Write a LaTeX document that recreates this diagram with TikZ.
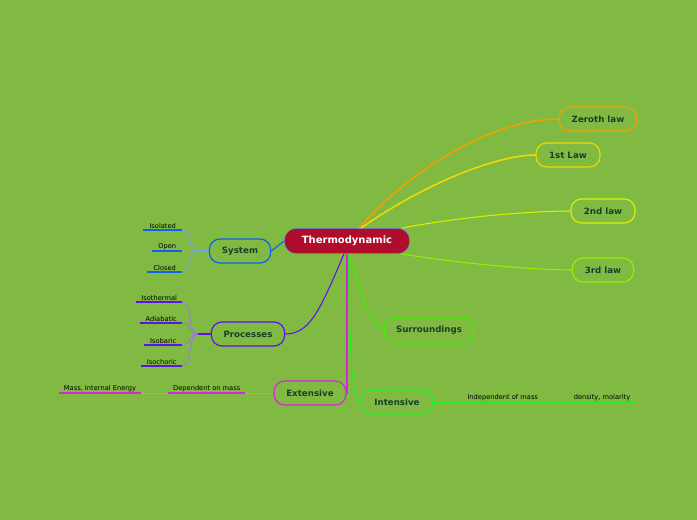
\documentclass[tikz,border=0pt]{standalone}
\usepackage{fontspec}
\setmainfont{DejaVu Sans}
\usetikzlibrary{positioning}
\definecolor{bg}{HTML}{80BA42}
\definecolor{cZero}{HTML}{F0A000}
\definecolor{cOne}{HTML}{F0D800}
\definecolor{cTwo}{HTML}{D8F000}
\definecolor{cThree}{HTML}{90F000}
\definecolor{cSurr}{HTML}{40F000}
\definecolor{cInt}{HTML}{20F020}
\definecolor{cExt}{HTML}{E020E0}
\definecolor{cProc}{HTML}{6010F0}
\definecolor{cSys}{HTML}{1060F0}
\definecolor{root}{HTML}{B00D2C}
\definecolor{txt}{HTML}{17402A}
\tikzset{
  topic/.style={draw=#1, line width=0.9pt, rounded corners=8pt, minimum height=18pt,
    font=\bfseries\fontsize{6.5}{7}\selectfont, text=txt, inner xsep=8pt},
  leaf/.style={inner sep=1pt, font=\fontsize{5}{6}\selectfont, text=black, anchor=south east},
  uline/.style={line width=1.2pt, draw=#1},
  link/.style={line width=0.8pt, draw=#1}
}
\begin{document}
\begin{tikzpicture}[x=0.75pt,y=-0.75pt]
\fill[bg] (0,0) rectangle (697,520);

% main topic
\node[draw=cSys!70, fill=root, rounded corners=9pt, minimum width=94pt, minimum height=19pt,
  text=white, font=\bfseries\fontsize{7.5}{8}\selectfont] (thermo) at (347,241) {Thermodynamic};

% subtopics
\node[topic=cZero, minimum width=58pt] (zeroth) at (598,119) {Zeroth law};
\node[topic=cOne, minimum width=48pt] (first) at (568,155) {1st Law};
\node[topic=cTwo, minimum width=48pt] (second) at (603,211) {2nd law};
\node[topic=cThree, minimum width=46pt] (third) at (603,270) {3rd law};
\node[topic=cSurr, minimum width=67pt] (surr) at (429,330) {Surroundings};
\node[topic=cInt, minimum width=54pt] (intensive) at (397,402) {Intensive};
\node[topic=cExt, minimum width=54pt] (extensive) at (310,393) {Extensive};
\node[topic=cProc, minimum width=55pt] (processes) at (248,334) {Processes};
\node[topic=cSys, minimum width=46pt] (system) at (240,251) {System};

\draw[link=cZero, line width=1.2pt] (thermo.north) ++(12,0) coordinate (z0) .. controls (420,160) and (500,119) .. (zeroth.west);
\draw[link=cOne, line width=1.2pt] (z0) ++(2,0) .. controls (430,180) and (500,155) .. (first.west);
\draw[link=cTwo] (thermo.north east) ++(-8,0) .. controls (470,215) and (540,211) .. (second.west);
\draw[link=cThree] (thermo.south east) ++(-8,0) .. controls (470,265) and (540,270) .. (third.west);
\draw[link=cSurr] (thermo.south) ++(2,0) .. controls (360,290) and (370,325) .. (surr.west);
\draw[link=cInt] (thermo.south) ++(1,0) .. controls (350,330) and (350,402) .. (intensive.west);
\draw[link=cExt] (thermo.south) -- (347,393) -- (extensive.east);
\draw[link=cProc] (thermo.south) ++(-3,0) .. controls (320,310) and (310,334) .. (processes.east);
\draw[link=cSys] (system.east) -- (thermo.west);

% system leaves
\foreach \name/\lab/\y/\w in {iso/Isolated/230/38, open/Open/251/29, closed/Closed/272/34}{
  \node[leaf, minimum width=\w*0.75pt, align=right] (\name) at (182,\y) {\lab};
  \draw[uline=cSys] (\name.south west) -- (\name.south east);
  \draw[link=cSys!60, line width=0.6pt] (\name.south east) .. controls (192,\y) and (188,251) .. (197,251);
}
\draw[link=cSys!60] (197,251) -- (system.west);

% process leaves
\foreach \name/\lab/\y/\w in {isoth/Isothermal/302/45, adia/Adiabatic/323/41, isob/Isobaric/345/37, isoc/Isochoric/366/40}{
  \node[leaf, minimum width=\w*0.75pt] (\name) at (182,\y) {\lab};
  \draw[uline=cProc] (\name.south west) -- (\name.south east);
  \draw[link=cProc!60, line width=0.6pt] (\name.south east) .. controls (192,\y) and (188,334) .. (198,334);
}
\draw[link=cProc] (198,334) -- (processes.west);

% extensive leaves
\node[leaf, minimum width=57pt] (dep) at (245,393) {Dependent on mass};
\draw[uline=cExt] (dep.south west) -- (dep.south east);
\draw[link=cExt!60, line width=0.6pt] (dep.south east) -- (extensive.west);
\node[leaf, minimum width=61pt] (mass) at (141,393) {Mass, Internal Energy};
\draw[uline=cExt] (mass.south west) -- (mass.south east);
\draw[link=cExt!60, line width=0.6pt] (mass.south east) -- (dep.south west);

% intensive leaves
\node[leaf, minimum width=60pt] (indep) at (543,402) {Independent of mass};
\draw[uline=cInt] (indep.south west) -- (indep.south east);
\draw[link=cInt, line width=0.6pt] (intensive.east) -- (indep.south west);
\node[leaf, minimum width=49pt] (dens) at (635,402) {density, molarity};
\draw[uline=cInt] (dens.south west) -- (dens.south east);
\draw[link=cInt, line width=0.6pt] (indep.south east) -- (dens.south west);
\end{tikzpicture}
\end{document}
